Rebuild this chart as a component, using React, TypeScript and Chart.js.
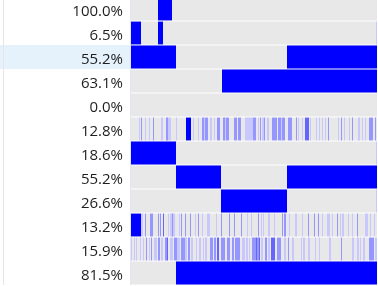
import React, { useEffect, useRef } from 'react';
import { Chart, registerables } from 'chart.js';

Chart.register(...registerables);

// Row keys (unique) and their displayed percentage labels
const rowKeys = ['r0', 'r1', 'r2', 'r3', 'r4', 'r5', 'r6', 'r7', 'r8', 'r9', 'r10', 'r11'];
const rowLabels = ['100.0%', '6.5%', '55.2%', '63.1%', '0.0%', '12.8%', '18.6%', '55.2%', '26.6%', '13.2%', '15.9%', '81.5%'];
const recordCount = 246;
const highlightedRow = 2;

// Segments per row: [startRecord, endRecord, intensityLevel]
const row0 = [[27, 41, 4]];
const row1 = [[0, 10, 4], [27, 32, 4], [245, 246, 1]];
const row2 = [[0, 45, 4], [156, 246, 4]];
const row3 = [[91, 246, 4]];
const row4: number[][] = [];
const row5 = [
  [8, 9, 1], [10, 11, 2], [14, 15, 1], [18, 19, 1], [22, 23, 2], [30, 32, 1], [35, 37, 2], [37, 40, 1],
  [45, 46, 1], [55, 60, 4], [62, 63, 1], [67, 68, 1], [71, 73, 2], [73, 74, 1], [74, 77, 2], [79, 81, 1],
  [83, 84, 1], [86, 89, 2], [92, 94, 2], [94, 95, 1], [95, 98, 2], [103, 106, 2], [107, 110, 2],
  [114, 122, 1], [122, 125, 2], [127, 128, 1], [129, 130, 2], [131, 133, 1], [133, 134, 2], [136, 138, 1],
  [141, 146, 2], [147, 150, 2], [150, 151, 1], [151, 154, 2], [157, 161, 2], [165, 166, 2], [167, 168, 1],
  [171, 172, 1], [174, 178, 3], [179, 180, 1], [185, 186, 1], [188, 189, 1], [191, 192, 1], [194, 195, 1],
  [197, 198, 2], [207, 208, 1], [210, 211, 2], [213, 214, 1], [218, 219, 1], [221, 222, 2], [227, 229, 1],
  [231, 232, 1], [234, 235, 1], [238, 242, 2], [244, 245, 2],
];
const row6 = [[0, 45, 4], [245, 246, 1]];
const row7 = [[45, 90, 4], [156, 246, 4]];
const row8 = [[90, 156, 4], [245, 246, 1]];
const row9 = [
  [0, 10, 4], [10, 12, 1], [14, 15, 2], [19, 22, 2], [27, 28, 2], [29, 30, 2], [32, 33, 3], [37, 38, 1],
  [39, 41, 1], [41, 42, 2], [42, 44, 1], [48, 49, 1], [50, 51, 2], [54, 55, 2], [59, 60, 2], [64, 65, 1],
  [67, 68, 2], [71, 72, 1], [76, 79, 1], [85, 86, 1], [90, 91, 2], [98, 99, 2], [103, 104, 2], [110, 111, 2],
  [116, 117, 1], [120, 121, 1], [127, 128, 2], [130, 131, 1], [132, 133, 1], [137, 139, 1], [143, 144, 1],
  [151, 152, 2], [153, 155, 2], [158, 159, 1], [164, 166, 1], [171, 172, 1], [177, 178, 2], [183, 184, 2],
  [187, 188, 2], [191, 192, 1], [196, 199, 1], [201, 202, 1], [206, 207, 2], [209, 210, 1], [211, 213, 1],
  [217, 218, 1], [221, 222, 1], [226, 227, 2], [234, 237, 1], [239, 240, 1], [243, 244, 1],
];
const row10 = [
  [0, 1, 1], [3, 4, 1], [5, 6, 1], [9, 10, 1], [12, 13, 1], [15, 16, 2], [18, 19, 1], [20, 21, 2],
  [23, 26, 1], [27, 29, 2], [30, 32, 1], [34, 36, 2], [36, 37, 3], [39, 42, 1], [43, 46, 2], [46, 49, 1],
  [50, 54, 2], [54, 56, 1], [57, 59, 2], [60, 62, 1], [65, 66, 1], [68, 70, 1], [72, 73, 1], [74, 76, 1],
  [79, 82, 2], [83, 85, 2], [86, 88, 3], [90, 94, 2], [96, 99, 2], [101, 103, 2], [104, 109, 2],
  [111, 114, 1], [115, 117, 1], [118, 119, 1], [121, 123, 2], [123, 125, 2], [125, 126, 3], [126, 128, 2],
  [128, 129, 3], [130, 132, 1], [134, 136, 2], [137, 139, 1], [140, 144, 3], [146, 150, 2], [153, 155, 1],
  [157, 158, 2], [161, 163, 1], [170, 171, 1], [172, 174, 1], [177, 179, 1], [184, 185, 1], [188, 189, 1],
  [198, 200, 1], [210, 211, 2], [221, 223, 1], [226, 228, 1], [229, 230, 1], [232, 234, 1], [238, 243, 2],
  [244, 246, 1],
];
const row11 = [[45, 246, 4]];

const rowSegments = [row0, row1, row2, row3, row4, row5, row6, row7, row8, row9, row10, row11];
// red/green channel for each intensity level (blue channel always 255)
const levelShade = [232, 200, 150, 100, 0];

const decorPlugin = {
  id: 'decor',
  beforeDraw(chart: any) {
    const { ctx, scales, chartArea, height } = chart;
    const y = scales.y;
    const cy = y.getPixelForValue(highlightedRow);
    const half = (y.getPixelForValue(1) - y.getPixelForValue(0)) / 2;
    ctx.save();
    ctx.fillStyle = '#e5f1fb';
    ctx.fillRect(0, cy - half, chartArea.left - 1, half * 2);
    ctx.strokeStyle = '#e6e6e6';
    ctx.lineWidth = 1;
    ctx.beginPath();
    ctx.moveTo(3.5, 0);
    ctx.lineTo(3.5, height);
    ctx.stroke();
    ctx.strokeStyle = '#dfe7ef';
    ctx.beginPath();
    ctx.moveTo(chartArea.left - 0.5, 0);
    ctx.lineTo(chartArea.left - 0.5, height);
    ctx.stroke();
    ctx.restore();
  },
};

export default function App() {
  const ref = useRef<HTMLCanvasElement>(null);
  useEffect(() => {
    if (!ref.current) return;
    const segData: any[] = [];
    const segColors: string[] = [];
    rowSegments.forEach((segs, r) => {
      segs.forEach(([s, e, lvl]) => {
        segData.push({ y: rowKeys[r], x: [s, e] });
        const v = levelShade[lvl];
        segColors.push(`rgb(${v},${v},255)`);
      });
    });
    const chart = new Chart(ref.current, {
      type: 'bar',
      data: {
        labels: rowKeys,
        datasets: [
          {
            label: 'records',
            data: rowKeys.map((k) => ({ y: k, x: [0, recordCount] })),
            backgroundColor: '#e8e8e8',
            borderWidth: 0,
            grouped: false,
            order: 2,
            categoryPercentage: 1,
            barPercentage: 0.95,
          } as any,
          {
            label: 'missing',
            data: segData,
            backgroundColor: segColors,
            borderWidth: 0,
            grouped: false,
            order: 1,
            categoryPercentage: 1,
            barPercentage: 0.95,
          } as any,
        ],
      },
      options: {
        indexAxis: 'y',
        animation: false,
        responsive: false,
        layout: { padding: { right: 1 } },
        plugins: { legend: { display: false }, tooltip: { enabled: false } },
        scales: {
          x: { type: 'linear', min: 0, max: recordCount, display: false },
          y: {
            type: 'category',
            grid: { display: false, drawTicks: false },
            border: { display: false },
            afterFit(scale: any) {
              scale.width = 131;
              scale.paddingTop = 0;
              scale.paddingBottom = 0;
            },
            ticks: {
              padding: 8,
              labelOffset: 3,
              color: '#1e1e1e',
              font: { family: 'Open Sans', size: 15 },
              callback: (_v: any, i: number) => rowLabels[i],
            },
          },
        },
      },
      plugins: [decorPlugin],
    });
    return () => chart.destroy();
  }, []);
  return (
    <div style={{ position: 'fixed', left: 0, top: -3, width: 378, height: 288, background: '#fff' }}>
      <canvas ref={ref} width={378} height={288} />
    </div>
  );
}
